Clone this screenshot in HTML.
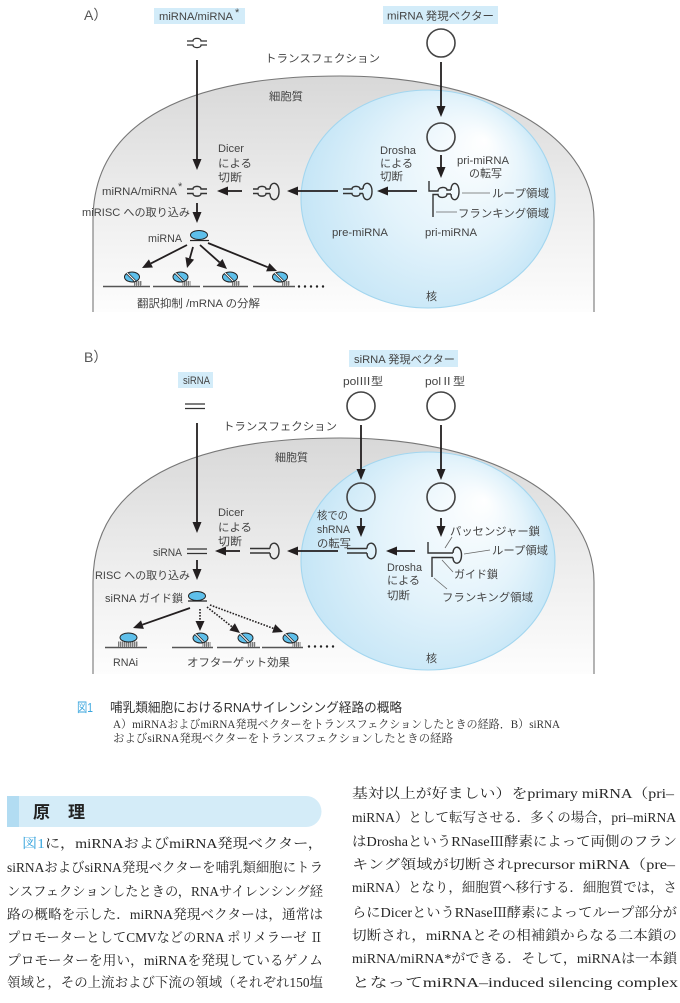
<!DOCTYPE html>
<html><head><meta charset="utf-8">
<style>
html,body{margin:0;padding:0;background:#fff;}
svg{display:block;}
.l{font-family:"Liberation Sans","Noto Sans CJK JP",sans-serif;font-size:11px;fill:#444;}
.b{font-family:"Liberation Serif","Noto Serif CJK SC",serif;font-size:13.5px;fill:#262626;}
.c{font-family:"Liberation Serif","Noto Serif CJK SC",serif;font-size:11.5px;fill:#333;}
</style></head>
<body>
<svg width="680" height="1003" viewBox="0 0 680 1003" xmlns="http://www.w3.org/2000/svg">
<defs>
<linearGradient id="cellA" gradientUnits="userSpaceOnUse" x1="0" y1="76" x2="0" y2="312">
<stop offset="0" stop-color="#d8d8d8"/><stop offset="0.5" stop-color="#ececec"/><stop offset="1" stop-color="#fdfdfd"/>
</linearGradient>
<linearGradient id="cellB" gradientUnits="userSpaceOnUse" x1="0" y1="438" x2="0" y2="674">
<stop offset="0" stop-color="#d8d8d8"/><stop offset="0.5" stop-color="#ececec"/><stop offset="1" stop-color="#fdfdfd"/>
</linearGradient>
<radialGradient id="nucA" gradientUnits="userSpaceOnUse" cx="428" cy="199" r="130" fx="485" fy="140">
<stop offset="0" stop-color="#ffffff"/><stop offset="0.55" stop-color="#e3f3fb"/><stop offset="1" stop-color="#c4e5f6"/>
</radialGradient>
<radialGradient id="nucB" gradientUnits="userSpaceOnUse" cx="428" cy="561" r="130" fx="485" fy="500">
<stop offset="0" stop-color="#ffffff"/><stop offset="0.55" stop-color="#e3f3fb"/><stop offset="1" stop-color="#c4e5f6"/>
</radialGradient>
<pattern id="hatch" patternUnits="userSpaceOnUse" width="2" height="4">
<rect width="2" height="4" fill="#c4c4c4"/><line x1="0.5" y1="0" x2="0.5" y2="4" stroke="#7a7a7a" stroke-width="1"/>
</pattern>
</defs>

<!-- ============ A ============ -->
<text x="84" y="20" font-family="Liberation Sans,Noto Sans CJK JP,sans-serif" font-size="14" fill="#555">A）</text>
<rect x="154" y="8" width="91" height="16" fill="#d3ecf9"/>
<text class="l" x="159" y="20" textLength="74" lengthAdjust="spacingAndGlyphs">miRNA/miRNA</text>
<text class="l" x="235" y="16" font-size="7">*</text>
<rect x="383" y="6" width="115" height="18" fill="#d3ecf9"/>
<text class="l" x="387" y="19.5" textLength="107" lengthAdjust="spacingAndGlyphs">miRNA 発現ベクター</text>

<path d="M93,312 L93,220 C93,120 190,76 340,76 C480,76 594,130 594,220 L594,312" fill="url(#cellA)" stroke="none"/>
<path d="M93,312 L93,220 C93,120 190,76 340,76 C480,76 594,130 594,220 L594,312" fill="none" stroke="#777" stroke-width="1.1"/>
<ellipse cx="428" cy="199" rx="127" ry="109" fill="url(#nucA)" stroke="#a3d6ef" stroke-width="1.1"/>

<text class="l" x="265" y="62" textLength="115" lengthAdjust="spacingAndGlyphs">トランスフェクション</text>
<text class="l" x="269" y="100" textLength="34" lengthAdjust="spacingAndGlyphs">細胞質</text>

<!-- transfected duplex -->
<g fill="none" stroke="#333" stroke-width="1.3">
<path d="M187,41 H193 C193,37.5 201,37.5 201,41 H207"/>
<path d="M187,45 H193 C193,48.5 201,48.5 201,45 H207"/>
</g>
<!-- vector circles -->
<circle cx="441" cy="43" r="14" fill="none" stroke="#444" stroke-width="1.6"/>
<circle cx="441" cy="137" r="14" fill="none" stroke="#444" stroke-width="1.6"/>

<g stroke="#231f20" stroke-width="1.8" fill="none">
<line x1="197" y1="60" x2="197" y2="160"/>
<line x1="441" y1="62" x2="441" y2="107"/>
<line x1="441" y1="155" x2="441" y2="168"/>
<line x1="197" y1="203" x2="197" y2="213"/>
<line x1="417" y1="191" x2="387" y2="191"/>
<line x1="338" y1="191" x2="297" y2="191"/>
<line x1="242" y1="191" x2="227" y2="191"/>
<line x1="187" y1="245" x2="150.9" y2="263.4"/>
<line x1="193" y1="247" x2="189.8" y2="258.4"/>
<line x1="200" y1="245" x2="219.5" y2="262.3"/>
<line x1="208" y1="243" x2="267.7" y2="267.2"/>
</g>
<g fill="#231f20">
<polygon points="197,170 192.5,159 201.5,159"/>
<polygon points="441,117 436.5,106 445.5,106"/>
<polygon points="441,178 436.5,167 445.5,167"/>
<polygon points="197,223 192.5,212 201.5,212"/>
<polygon points="377,191 388,186.5 388,195.5"/>
<polygon points="287,191 298,186.5 298,195.5"/>
<polygon points="217,191 228,186.5 228,195.5"/>
<polygon points="142,268 152.9,267.5 148.9,259.4"/>
<polygon points="187,268 194.1,259.6 185.4,257.1"/>
<polygon points="227,269 222.5,259 216.5,265.7"/>
<polygon points="277,271 269.4,263.1 266.1,271.4"/>
</g>

<!-- pri-miRNA -->
<g fill="none" stroke="#333" stroke-width="1.4">
<path d="M429,181 V191 H438 C438,186.5 447,186.5 447,190 H451"/>
<path d="M433,217 V194.5 H438 C438,198.5 447,198.5 447,194 H451"/>
<path d="M451,190 C451,181 459,181 459,191.5 C459,202 451,202 451,194"/>
<!-- pre-miRNA nucleus -->
<path d="M343,189 H352 C352,185.5 360,185.5 360,189 H363"/>
<path d="M343,193.5 H352 C352,197 360,197 360,193.5 H363"/>
<path d="M363,189 C363,181 372,181 372,191.5 C372,202 363,202 363,193.5"/>
<!-- pre-miRNA cytoplasm -->
<path d="M253,189 H258 C258,185.5 266,185.5 266,189 H270"/>
<path d="M253,193.5 H258 C258,197 266,197 266,193.5 H270"/>
<path d="M270,189 C270,181 279,181 279,191.5 C279,202 270,202 270,193.5"/>
<!-- duplex cytoplasm -->
<path d="M187,189 H193 C193,185.5 201,185.5 201,189 H207"/>
<path d="M187,193.5 H193 C193,197 201,197 201,193.5 H207"/>
</g>
<g stroke="#666" stroke-width="0.8">
<line x1="462" y1="193" x2="490" y2="193"/>
<line x1="436" y1="212" x2="457" y2="212"/>
</g>

<text class="l" x="218" y="152" textLength="26" lengthAdjust="spacingAndGlyphs">Dicer</text>
<text class="l" x="218" y="167" textLength="34" lengthAdjust="spacingAndGlyphs">による</text>
<text class="l" x="218" y="181" textLength="24" lengthAdjust="spacingAndGlyphs">切断</text>
<text class="l" x="380" y="154" textLength="36" lengthAdjust="spacingAndGlyphs">Drosha</text>
<text class="l" x="380" y="167" textLength="33" lengthAdjust="spacingAndGlyphs">による</text>
<text class="l" x="380" y="180" textLength="23" lengthAdjust="spacingAndGlyphs">切断</text>
<text class="l" x="457" y="164" textLength="52" lengthAdjust="spacingAndGlyphs">pri-miRNA</text>
<text class="l" x="469" y="177" textLength="33" lengthAdjust="spacingAndGlyphs">の転写</text>
<text class="l" x="492" y="197" textLength="57" lengthAdjust="spacingAndGlyphs">ループ領域</text>
<text class="l" x="458" y="217" textLength="91" lengthAdjust="spacingAndGlyphs">フランキング領域</text>
<text class="l" x="102" y="195" textLength="75" lengthAdjust="spacingAndGlyphs">miRNA/miRNA</text>
<text class="l" x="178" y="190" font-size="7">*</text>
<text class="l" x="82" y="216" textLength="108" lengthAdjust="spacingAndGlyphs">miRISC への取り込み</text>
<text class="l" x="148" y="242" textLength="34" lengthAdjust="spacingAndGlyphs">miRNA</text>
<text class="l" x="332" y="236" textLength="56" lengthAdjust="spacingAndGlyphs">pre-miRNA</text>
<text class="l" x="425" y="236" textLength="52" lengthAdjust="spacingAndGlyphs">pri-miRNA</text>
<text class="l" x="137" y="307" textLength="123" lengthAdjust="spacingAndGlyphs">翻訳抑制 /mRNA の分解</text>
<text class="l" x="426" y="300">核</text>

<!-- miRNA complex -->
<ellipse cx="199" cy="235" rx="8.5" ry="4.5" fill="#5ebfea" stroke="#222" stroke-width="1"/>
<line x1="190" y1="240.5" x2="209" y2="240.5" stroke="#222" stroke-width="1.3"/>

<!-- targets A -->
<g stroke="#555" stroke-width="1.5">
<line x1="103" y1="286.5" x2="150" y2="286.5"/>
<line x1="153" y1="286.5" x2="200" y2="286.5"/>
<line x1="203" y1="286.5" x2="248" y2="286.5"/>
<line x1="253" y1="286.5" x2="295" y2="286.5"/>
</g>
<g>
<rect x="134" y="281" width="8" height="5" fill="url(#hatch)"/>
<ellipse cx="132" cy="277" rx="7.5" ry="5" fill="#5ebfea" stroke="#222" stroke-width="1"/>
<line x1="127" y1="273" x2="135" y2="281" stroke="#222" stroke-width="2.6"/><line x1="127" y1="273" x2="135" y2="281" stroke="#fff" stroke-width="1.1"/>
<rect x="182.5" y="281" width="8" height="5" fill="url(#hatch)"/>
<ellipse cx="180.5" cy="277" rx="7.5" ry="5" fill="#5ebfea" stroke="#222" stroke-width="1"/>
<line x1="175.5" y1="273" x2="183.5" y2="281" stroke="#222" stroke-width="2.6"/><line x1="175.5" y1="273" x2="183.5" y2="281" stroke="#fff" stroke-width="1.1"/>
<rect x="232" y="281" width="8" height="5" fill="url(#hatch)"/>
<ellipse cx="230" cy="277" rx="7.5" ry="5" fill="#5ebfea" stroke="#222" stroke-width="1"/>
<line x1="225" y1="273" x2="233" y2="281" stroke="#222" stroke-width="2.6"/><line x1="225" y1="273" x2="233" y2="281" stroke="#fff" stroke-width="1.1"/>
<rect x="282" y="281" width="8" height="5" fill="url(#hatch)"/>
<ellipse cx="280" cy="277" rx="7.5" ry="5" fill="#5ebfea" stroke="#222" stroke-width="1"/>
<line x1="275" y1="273" x2="283" y2="281" stroke="#222" stroke-width="2.6"/><line x1="275" y1="273" x2="283" y2="281" stroke="#fff" stroke-width="1.1"/>
</g>
<g fill="#222">
<circle cx="299" cy="286.5" r="1.2"/><circle cx="305" cy="286.5" r="1.2"/><circle cx="311" cy="286.5" r="1.2"/><circle cx="317" cy="286.5" r="1.2"/><circle cx="323" cy="286.5" r="1.2"/>
</g>

<!-- ============ B ============ -->
<text x="84" y="362" font-family="Liberation Sans,Noto Sans CJK JP,sans-serif" font-size="14" fill="#555">B）</text>
<rect x="178" y="372" width="35" height="16" fill="#d3ecf9"/>
<text class="l" x="183" y="384" textLength="27" lengthAdjust="spacingAndGlyphs">siRNA</text>
<rect x="349" y="350" width="109" height="17" fill="#d3ecf9"/>
<text class="l" x="354" y="363" textLength="101" lengthAdjust="spacingAndGlyphs">siRNA 発現ベクター</text>
<text class="l" x="343" y="385" textLength="40" lengthAdjust="spacingAndGlyphs">polⅢ型</text>
<text class="l" x="425" y="385" textLength="40" lengthAdjust="spacingAndGlyphs">polⅡ型</text>

<path d="M93,674 L93,582 C93,482 190,438 340,438 C480,438 594,492 594,582 L594,674" fill="url(#cellB)" stroke="none"/>
<path d="M93,674 L93,582 C93,482 190,438 340,438 C480,438 594,492 594,582 L594,674" fill="none" stroke="#777" stroke-width="1.1"/>
<ellipse cx="428" cy="561" rx="127" ry="109" fill="url(#nucB)" stroke="#a3d6ef" stroke-width="1.1"/>

<text class="l" x="223" y="430" textLength="114" lengthAdjust="spacingAndGlyphs">トランスフェクション</text>
<text class="l" x="275" y="461" textLength="33" lengthAdjust="spacingAndGlyphs">細胞質</text>

<g stroke="#333" stroke-width="1.3">
<line x1="185" y1="404" x2="205" y2="404"/><line x1="185" y1="408.5" x2="205" y2="408.5"/>
<line x1="187" y1="549" x2="207" y2="549"/><line x1="187" y1="553.5" x2="207" y2="553.5"/>
</g>
<circle cx="361" cy="406" r="14" fill="none" stroke="#444" stroke-width="1.6"/>
<circle cx="441" cy="406" r="14" fill="none" stroke="#444" stroke-width="1.6"/>
<circle cx="361" cy="497" r="14" fill="none" stroke="#444" stroke-width="1.6"/>
<circle cx="441" cy="497" r="14" fill="none" stroke="#444" stroke-width="1.6"/>

<g stroke="#231f20" stroke-width="1.8" fill="none">
<line x1="197" y1="423" x2="197" y2="523"/>
<line x1="361" y1="425" x2="361" y2="470"/>
<line x1="441" y1="425" x2="441" y2="470"/>
<line x1="361" y1="518" x2="361" y2="527"/>
<line x1="441" y1="518" x2="441" y2="527"/>
<line x1="197" y1="560" x2="197" y2="570"/>
<line x1="415" y1="551" x2="396" y2="551"/>
<line x1="338" y1="551" x2="297" y2="551"/>
<line x1="240" y1="551" x2="225" y2="551"/>
<line x1="190" y1="608" x2="142.4" y2="624.7"/>
</g>
<g stroke="#231f20" stroke-width="1.6" fill="none" stroke-dasharray="1.6 1.4">
<line x1="200" y1="609" x2="200" y2="621"/>
<line x1="207" y1="607" x2="232.1" y2="626.8"/>
<line x1="210" y1="605" x2="273.6" y2="628.5"/>
</g>
<g fill="#231f20">
<polygon points="197,533 192.5,522 201.5,522"/>
<polygon points="361,480 356.5,469 365.5,469"/>
<polygon points="441,480 436.5,469 445.5,469"/>
<polygon points="361,537 356.5,526 365.5,526"/>
<polygon points="441,537 436.5,526 445.5,526"/>
<polygon points="197,580 192.5,569 201.5,569"/>
<polygon points="386,551 397,546.5 397,555.5"/>
<polygon points="287,551 298,546.5 298,555.5"/>
<polygon points="215,551 226,546.5 226,555.5"/>
<polygon points="133,628 143.9,628.9 141,620.4"/>
<polygon points="200,631 195.5,621 204.5,621"/>
<polygon points="240,633 234.9,623.3 229.4,630.4"/>
<polygon points="283,632 275.2,624.3 272.1,632.8"/>
</g>

<g fill="none" stroke="#333" stroke-width="1.4">
<!-- pri-siRNA -->
<path d="M428,542 V553 H453"/>
<path d="M432,577 V557.5 H453"/>
<path d="M453,553 C453,545 461.5,545 461.5,555 C461.5,565.5 453,565.5 453,557.5"/>
<!-- shRNA nucleus -->
<path d="M347,548.5 H367"/><path d="M347,553 H367"/>
<path d="M367,548.5 C367,541 376,541 376,551 C376,561 367,561 367,553"/>
<!-- shRNA cytoplasm -->
<path d="M250,548.5 H270"/><path d="M250,553 H270"/>
<path d="M270,548.5 C270,541 279,541 279,551 C279,561 270,561 270,553"/>
</g>
<g stroke="#666" stroke-width="0.8">
<line x1="445" y1="548" x2="452" y2="537"/>
<line x1="464" y1="554" x2="490" y2="550"/>
<line x1="442" y1="560" x2="453" y2="572"/>
<line x1="434" y1="578" x2="447" y2="589"/>
</g>

<text class="l" x="218" y="516" textLength="26" lengthAdjust="spacingAndGlyphs">Dicer</text>
<text class="l" x="218" y="531" textLength="34" lengthAdjust="spacingAndGlyphs">による</text>
<text class="l" x="218" y="545" textLength="24" lengthAdjust="spacingAndGlyphs">切断</text>
<text class="l" x="317" y="519" textLength="31" lengthAdjust="spacingAndGlyphs">核での</text>
<text class="l" x="317" y="533" textLength="33" lengthAdjust="spacingAndGlyphs">shRNA</text>
<text class="l" x="317" y="547" textLength="34" lengthAdjust="spacingAndGlyphs">の転写</text>
<text class="l" x="153" y="556" textLength="29" lengthAdjust="spacingAndGlyphs">siRNA</text>
<text class="l" x="95" y="579" textLength="95" lengthAdjust="spacingAndGlyphs">RISC への取り込み</text>
<text class="l" x="105" y="602" textLength="78" lengthAdjust="spacingAndGlyphs">siRNA ガイド鎖</text>
<text class="l" x="387" y="571" textLength="35" lengthAdjust="spacingAndGlyphs">Drosha</text>
<text class="l" x="387" y="584" textLength="33" lengthAdjust="spacingAndGlyphs">による</text>
<text class="l" x="387" y="599" textLength="23" lengthAdjust="spacingAndGlyphs">切断</text>
<text class="l" x="450" y="535" textLength="90" lengthAdjust="spacingAndGlyphs">パッセンジャー鎖</text>
<text class="l" x="492" y="554" textLength="56" lengthAdjust="spacingAndGlyphs">ループ領域</text>
<text class="l" x="454" y="578" textLength="44" lengthAdjust="spacingAndGlyphs">ガイド鎖</text>
<text class="l" x="442" y="601" textLength="91" lengthAdjust="spacingAndGlyphs">フランキング領域</text>
<text class="l" x="113" y="666" textLength="25" lengthAdjust="spacingAndGlyphs">RNAi</text>
<text class="l" x="187" y="666" textLength="103" lengthAdjust="spacingAndGlyphs">オフターゲット効果</text>
<text class="l" x="426" y="662">核</text>

<!-- guide complex -->
<ellipse cx="197" cy="596" rx="8.5" ry="4.5" fill="#5ebfea" stroke="#222" stroke-width="1"/>
<line x1="188" y1="601" x2="207" y2="601" stroke="#222" stroke-width="1.3"/>

<!-- targets B -->
<g stroke="#555" stroke-width="1.5">
<line x1="105" y1="647.5" x2="147" y2="647.5"/>
<line x1="172" y1="647.5" x2="213" y2="647.5"/>
<line x1="217" y1="647.5" x2="260" y2="647.5"/>
<line x1="262" y1="647.5" x2="303" y2="647.5"/>
</g>
<rect x="118" y="641.5" width="20" height="5.5" fill="url(#hatch)"/>
<ellipse cx="128.5" cy="637.5" rx="8.5" ry="4.5" fill="#5ebfea" stroke="#222" stroke-width="1"/>
<g>
<rect x="202.5" y="642" width="8" height="5" fill="url(#hatch)"/>
<ellipse cx="200.5" cy="638" rx="7.5" ry="5" fill="#5ebfea" stroke="#222" stroke-width="1"/>
<line x1="195.5" y1="634" x2="203.5" y2="642" stroke="#222" stroke-width="2.6"/><line x1="195.5" y1="634" x2="203.5" y2="642" stroke="#fff" stroke-width="1.1"/>
<rect x="247.5" y="642" width="8" height="5" fill="url(#hatch)"/>
<ellipse cx="245.5" cy="638" rx="7.5" ry="5" fill="#5ebfea" stroke="#222" stroke-width="1"/>
<line x1="240.5" y1="634" x2="248.5" y2="642" stroke="#222" stroke-width="2.6"/><line x1="240.5" y1="634" x2="248.5" y2="642" stroke="#fff" stroke-width="1.1"/>
<rect x="292.5" y="642" width="8" height="5" fill="url(#hatch)"/>
<ellipse cx="290.5" cy="638" rx="7.5" ry="5" fill="#5ebfea" stroke="#222" stroke-width="1"/>
<line x1="285.5" y1="634" x2="293.5" y2="642" stroke="#222" stroke-width="2.6"/><line x1="285.5" y1="634" x2="293.5" y2="642" stroke="#fff" stroke-width="1.1"/>
</g>
<g fill="#222">
<circle cx="309" cy="646.5" r="1.2"/><circle cx="315" cy="646.5" r="1.2"/><circle cx="321" cy="646.5" r="1.2"/><circle cx="327" cy="646.5" r="1.2"/><circle cx="333" cy="646.5" r="1.2"/>
</g>

<!-- ============ Caption ============ -->
<text x="77" y="712" font-family="Liberation Sans,Noto Sans CJK JP,sans-serif" font-size="13" fill="#3aa6de" textLength="16" lengthAdjust="spacingAndGlyphs">図1</text>
<text x="110" y="712" font-family="Liberation Sans,Noto Sans CJK JP,sans-serif" font-size="13" fill="#333" textLength="292" lengthAdjust="spacingAndGlyphs">哺乳類細胞におけるRNAサイレンシング経路の概略</text>
<text class="c" x="113" y="728" textLength="447" lengthAdjust="spacingAndGlyphs">A）miRNAおよびmiRNA発現ベクターをトランスフェクションしたときの経路．B）siRNA</text>
<text class="c" x="113" y="742" textLength="340" lengthAdjust="spacingAndGlyphs">およびsiRNA発現ベクターをトランスフェクションしたときの経路</text>

<!-- ============ Section header ============ -->
<path d="M7,796 H306 A15.5,15.5 0 0 1 306,827 H7 Z" fill="#d4ecf8"/>
<rect x="7" y="796" width="12" height="31" fill="#b2dcf2"/>
<text x="33" y="818" font-family="Noto Sans CJK JP,sans-serif" font-size="17" font-weight="bold" fill="#222">原</text>
<text x="68" y="818" font-family="Noto Sans CJK JP,sans-serif" font-size="17" font-weight="bold" fill="#222">理</text>

<!-- ============ Body left ============ -->
<text class="b" x="22" y="848" textLength="301" lengthAdjust="spacingAndGlyphs"><tspan fill="#3aa6de">図1</tspan>に，miRNAおよびmiRNA発現ベクター，</text>
<text class="b" x="7" y="872" textLength="316" lengthAdjust="spacingAndGlyphs">siRNAおよびsiRNA発現ベクターを哺乳類細胞にトラ</text>
<text class="b" x="7" y="896" textLength="316" lengthAdjust="spacingAndGlyphs">ンスフェクションしたときの，RNAサイレンシング経</text>
<text class="b" x="7" y="919" textLength="316" lengthAdjust="spacingAndGlyphs">路の概略を示した．miRNA発現ベクターは，通常は</text>
<text class="b" x="7" y="942" textLength="316" lengthAdjust="spacingAndGlyphs">プロモーターとしてCMVなどのRNA ポリメラーゼ Ⅱ</text>
<text class="b" x="7" y="965" textLength="316" lengthAdjust="spacingAndGlyphs">プロモーターを用い，miRNAを発現しているゲノム</text>
<text class="b" x="7" y="987" textLength="316" lengthAdjust="spacingAndGlyphs">領域と，その上流および下流の領域（それぞれ150塩</text>

<!-- ============ Body right ============ -->
<text class="b" x="352" y="798" textLength="322" lengthAdjust="spacingAndGlyphs">基対以上が好ましい）をprimary miRNA（pri–</text>
<text class="b" x="352" y="822" textLength="324" lengthAdjust="spacingAndGlyphs">miRNA）として転写させる．多くの場合，pri–miRNA</text>
<text class="b" x="352" y="846" textLength="325" lengthAdjust="spacingAndGlyphs">はDroshaというRNaseⅢ酵素によって両側のフラン</text>
<text class="b" x="352" y="869" textLength="323" lengthAdjust="spacingAndGlyphs">キング領域が切断されprecursor miRNA（pre–</text>
<text class="b" x="352" y="892" textLength="325" lengthAdjust="spacingAndGlyphs">miRNA）となり，細胞質へ移行する．細胞質では，さ</text>
<text class="b" x="352" y="917" textLength="325" lengthAdjust="spacingAndGlyphs">らにDicerというRNaseⅢ酵素によってループ部分が</text>
<text class="b" x="352" y="940" textLength="325" lengthAdjust="spacingAndGlyphs">切断され，miRNAとその相補鎖からなる二本鎖の</text>
<text class="b" x="352" y="963" textLength="325" lengthAdjust="spacingAndGlyphs">miRNA/miRNA*ができる．そして，miRNAは一本鎖</text>
<text class="b" x="352" y="987" textLength="326" lengthAdjust="spacingAndGlyphs">となってmiRNA–induced silencing complex</text>
</svg>
</body></html>
